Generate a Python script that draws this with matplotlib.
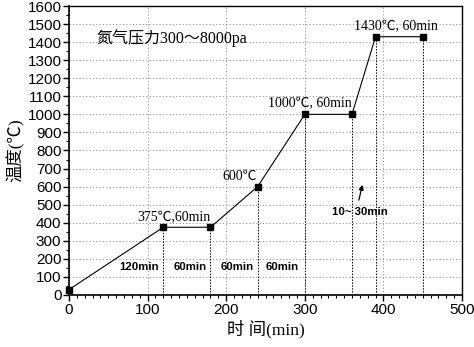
import matplotlib
matplotlib.use("Agg")
import matplotlib.pyplot as plt
from matplotlib.ticker import MultipleLocator

# Sintering schedule: time (min) vs temperature (°C)
time_min = [0, 120, 180, 240, 300, 360, 390, 450]
temp_c = [30, 375, 375, 600, 1000, 1000, 1430, 1430]

# Step annotations
step_labels = ["375℃,60min", "600℃", "1000℃, 60min", "1430℃, 60min"]
duration_labels = ["120min", "60min", "60min", "60min"]
pressure_label = "氮气压力300～8000pa"
hold_label = "10~ 30min"

serif_cjk = ["Liberation Serif", "Noto Sans CJK SC"]
sans = ["Liberation Sans", "DejaVu Sans"]

fig = plt.figure(figsize=(4.74, 3.47), dpi=100)
ax = fig.add_axes([0.1456, 0.1499, 0.8291, 0.8328])

ax.set_xlim(0, 500)
ax.set_ylim(0, 1600)

# dotted background grid
ax.xaxis.set_major_locator(MultipleLocator(100))
ax.xaxis.set_minor_locator(MultipleLocator(10))
ax.yaxis.set_major_locator(MultipleLocator(100))
ax.yaxis.set_minor_locator(MultipleLocator(50))
ax.grid(True, which="major", color="#8a8a8a", linestyle=(0, (1.5, 2.5)), linewidth=0.6)
ax.set_axisbelow(True)

# drop lines from each schedule point to the time axis
for t, T in zip(time_min[1:], temp_c[1:]):
    ax.plot([t, t], [0, T], color="black", linestyle=(0, (1.5, 1.5)), linewidth=0.7)

ax.plot(time_min, temp_c, color="black", linewidth=0.8)
ax.plot(time_min, temp_c, linestyle="none", marker="s", markersize=4.2,
        color="black", clip_on=False, zorder=5)

# step labels
ax.text(133, 430, step_labels[0], ha="center", va="center", fontsize=10, family=serif_cjk)
ax.text(217, 655, step_labels[1], ha="center", va="center", fontsize=10, family=serif_cjk)
ax.text(307, 1058, step_labels[2], ha="center", va="center", fontsize=10, family=serif_cjk)
ax.text(416, 1487, step_labels[3], ha="center", va="center", fontsize=10, family=serif_cjk)

ax.text(35, 1425, pressure_label, ha="left", va="center", fontsize=11.5, family=serif_cjk)

# segment durations
for x, lab in zip([89, 154, 214, 271], duration_labels):
    ax.text(x, 155, lab, ha="center", va="center", fontsize=8.2, fontweight="bold", family=sans)

ax.text(370, 460, hold_label, ha="center", va="center", fontsize=8.2, fontweight="bold", family=sans)
ax.annotate("", xy=(374, 625), xytext=(368, 510),
            arrowprops=dict(arrowstyle="-|>", color="black", lw=0.9, mutation_scale=7))

# axes styling
for side in ["top", "right"]:
    ax.spines[side].set_linewidth(1.0)
for side in ["left", "bottom"]:
    ax.spines[side].set_linewidth(1.2)
ax.tick_params(axis="both", which="major", direction="out", length=4, width=1, labelsize=11)
ax.tick_params(axis="both", which="minor", direction="out", length=2.5, width=0.8)
ax.tick_params(axis="x", pad=2)
ax.tick_params(axis="y", pad=1.5)
for lbl in ax.get_xticklabels() + ax.get_yticklabels():
    lbl.set_family(sans)

ax.set_xlabel("时 间(min)", fontsize=12.5, family=serif_cjk, labelpad=2)
ax.set_ylabel("温度(℃)", fontsize=12.5, family=serif_cjk, labelpad=2)

fig.savefig("out.png", dpi=100)
